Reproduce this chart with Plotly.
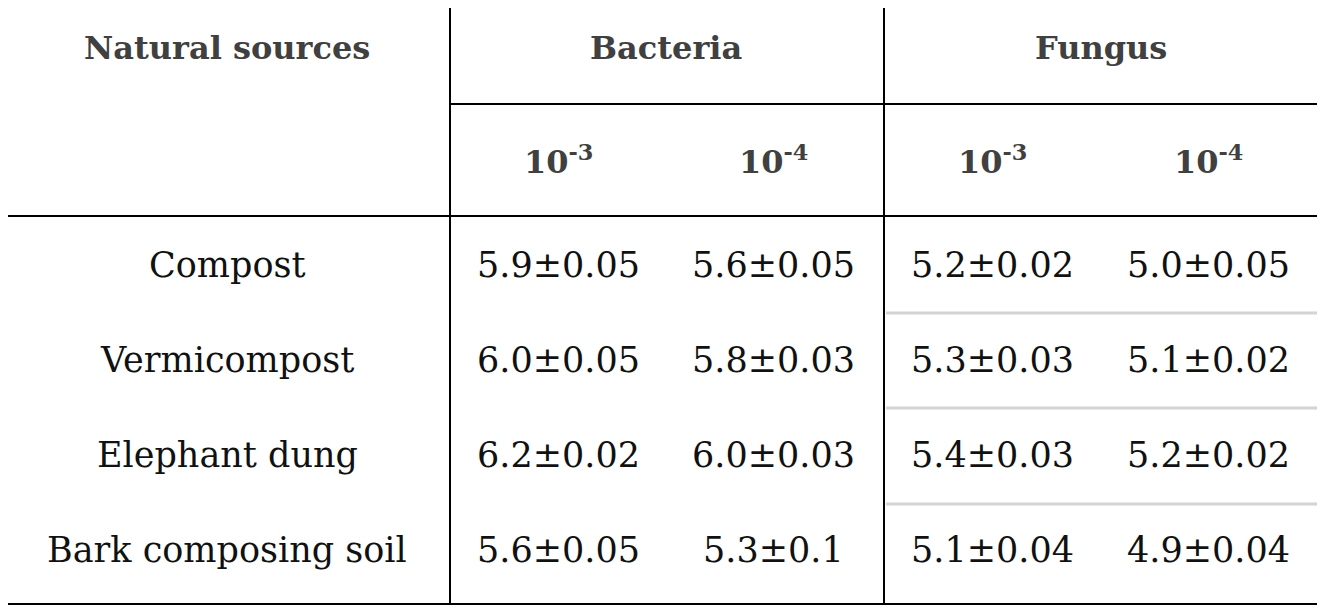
import plotly.graph_objects as go

sources = ["Compost", "Vermicompost", "Elephant dung", "Bark composing soil"]
groups = ["Bacteria", "Fungus"]
dilutions = ["10<sup>-3</sup>", "10<sup>-4</sup>", "10<sup>-3</sup>", "10<sup>-4</sup>"]
bact_3 = ["5.9±0.05", "6.0±0.05", "6.2±0.02", "5.6±0.05"]
bact_4 = ["5.6±0.05", "5.8±0.03", "6.0±0.03", "5.3±0.1"]
fung_3 = ["5.2±0.02", "5.3±0.03", "5.4±0.03", "5.1±0.04"]
fung_4 = ["5.0±0.05", "5.1±0.02", "5.2±0.02", "4.9±0.04"]

W, H = 1325, 610
OFF = 8  # page body margin
col_x = [227, 558, 773, 992, 1208]
row_y = [265, 360, 455, 550]
fig = go.Figure()
anns = []
hdr = dict(family="DejaVu Serif", size=32, color="#404040")
body = dict(family="DejaVu Serif", size=35, color="#111111")
anns.append(dict(x=227, y=48, text="<b>Natural sources</b>", font=hdr))
anns.append(dict(x=666, y=48, text="<b>" + groups[0] + "</b>", font=hdr))
anns.append(dict(x=1101, y=48, text="<b>" + groups[1] + "</b>", font=hdr))
for i, d in enumerate(dilutions):
    anns.append(dict(x=col_x[i + 1], y=160, text="<b>" + d + "</b>", font=hdr))
cols = [sources, bact_3, bact_4, fung_3, fung_4]
for c, vals in enumerate(cols):
    for r, v in enumerate(vals):
        anns.append(dict(x=col_x[c], y=row_y[r], text=v, font=body))
for a in anns:
    a.update(xref="x", yref="y", showarrow=False, xanchor="center", yanchor="middle")

shapes = []
def line(x0, y0, x1, y1, color="black", w=2):
    shapes.append(dict(type="line", xref="x", yref="y", x0=x0, y0=y0, x1=x1, y1=y1,
                       line=dict(color=color, width=w)))
line(8, 2, 1318, 2)
line(450, 104, 1318, 104)
line(8, 216, 1318, 216)
line(8, 604, 1318, 604)
line(450, 2, 450, 604)
line(884, 2, 884, 604)
for y in [313, 408, 504]:
    line(886, y, 1318, y, color="#d4d4d4", w=3)

fig.update_layout(width=W - OFF, height=H - OFF, margin=dict(l=0, r=0, t=0, b=0),
                  paper_bgcolor="white", plot_bgcolor="white",
                  annotations=anns, shapes=shapes,
                  xaxis=dict(range=[OFF, W], visible=False, fixedrange=True),
                  yaxis=dict(range=[H, OFF], visible=False, fixedrange=True),
                  showlegend=False)
fig.write_html("out.html", config={"displayModeBar": False})
